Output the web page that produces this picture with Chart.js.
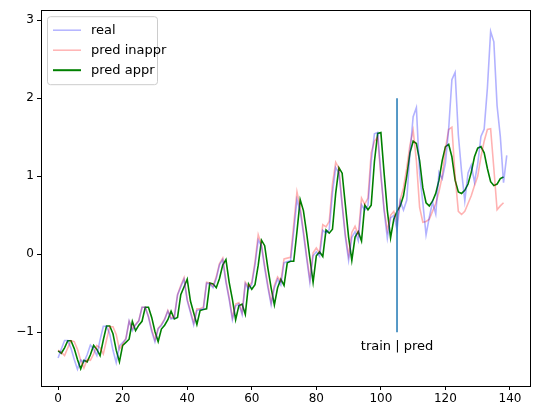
<!DOCTYPE html>
<html>
<head>
<meta charset="utf-8">
<script src="https://cdn.jsdelivr.net/npm/chart.js@4/dist/chart.umd.min.js"></script>
<style>
  html, body { margin: 0; padding: 0; background: #fff; }
  #wrap { width: 546px; height: 417px; }
</style>
</head>
<body>
<div id="wrap"><canvas id="c"></canvas></div>
<script>
// ─── DATA ─────────────────────────────────────────
const xTicks = [0, 20, 40, 60, 80, 100, 120, 140];
const yTicks = [-1, 0, 1, 2, 3];
const splitX = 105;

const real = [
  -1.332,-1.215,-1.107,-1.107,-1.207,-1.349,-1.475,-1.357,-1.382,-1.290,
  -1.165,-1.215,-1.299,-1.098,-0.923,-0.923,-1.023,-1.232,-1.391,-1.174,
  -1.132,-1.090,-0.856,-0.981,-0.906,-0.856,-0.680,-0.680,-0.806,-0.990,
  -1.124,-0.956,-0.914,-0.839,-0.730,-0.831,-0.814,-0.521,-0.421,-0.320,
  -0.596,-0.747,-0.906,-0.722,-0.705,-0.705,-0.371,-0.379,-0.429,-0.312,
  -0.136,-0.069,-0.362,-0.580,-0.839,-0.663,-0.638,-0.772,-0.379,-0.446,
  -0.387,-0.136,0.182,0.106,-0.178,-0.429,-0.647,-0.429,-0.320,-0.396,
  -0.111,-0.094,-0.086,0.290,0.700,0.558,0.265,-0.053,-0.362,-0.019,
  0.031,-0.028,0.307,0.274,0.316,0.784,1.110,1.044,0.625,0.215,
  -0.078,0.215,0.290,0.173,0.634,0.566,0.625,1.186,1.546,1.562,
  1.035,0.558,0.207,0.466,0.499,0.316,0.684,0.566,0.692,1.294,
  1.763,1.880,1.035,0.659,0.249,0.474,0.667,0.516,1.051,0.968,
  1.169,1.604,2.240,2.332,1.529,1.060,0.684,1.044,1.144,0.926,
  1.160,1.512,1.604,2.131,2.858,2.724,1.905,1.512,0.918,1.269
];

const predInappr = [
  -1.23,-1.26,-1.30,-1.20,-1.11,-1.12,-1.22,-1.36,-1.46,-1.35,
  -1.36,-1.28,-1.17,-1.20,-1.28,-1.10,-0.93,-0.93,-1.03,-1.22,
  -1.15,-1.08,-0.86,-0.96,-0.90,-0.85,-0.68,-0.68,-0.80,-0.97,
  -1.10,-0.95,-0.90,-0.83,-0.72,-0.82,-0.80,-0.52,-0.40,-0.30,
  -0.58,-0.73,-0.88,-0.70,-0.70,-0.68,-0.36,-0.37,-0.41,-0.29,
  -0.12,-0.05,-0.34,-0.56,-0.81,-0.64,-0.62,-0.75,-0.36,-0.42,
  -0.36,-0.10,0.25,0.12,-0.15,-0.40,-0.62,-0.40,-0.29,-0.35,
  -0.06,-0.05,-0.04,0.38,0.80,0.60,0.30,-0.02,-0.32,0.02,
  0.08,0.02,0.38,0.35,0.42,0.90,1.18,1.10,0.65,0.25,
  -0.02,0.28,0.36,0.25,0.72,0.64,0.72,1.30,1.45,1.50,
  1.00,0.58,0.30,0.50,0.55,0.40,0.70,0.85,1.10,1.40,
  1.59,1.20,0.60,0.41,0.42,0.45,0.55,0.65,0.80,1.00,
  1.35,1.60,1.63,1.00,0.55,0.51,0.55,0.65,0.75,0.88,
  1.00,1.25,1.45,1.60,1.61,1.10,0.57,0.62,0.66
];

const predAppr = [
  -1.24,-1.27,-1.20,-1.11,-1.11,-1.21,-1.35,-1.47,-1.36,-1.38,
  -1.29,-1.17,-1.22,-1.30,-1.10,-0.92,-0.92,-1.02,-1.23,-1.38,
  -1.17,-1.13,-1.09,-0.86,-0.98,-0.91,-0.86,-0.68,-0.68,-0.81,
  -0.99,-1.12,-0.96,-0.91,-0.84,-0.73,-0.83,-0.81,-0.52,-0.42,
  -0.32,-0.60,-0.75,-0.90,-0.72,-0.71,-0.70,-0.37,-0.38,-0.43,
  -0.31,-0.14,-0.07,-0.36,-0.58,-0.84,-0.66,-0.64,-0.77,-0.38,
  -0.45,-0.39,-0.14,0.18,0.11,-0.18,-0.43,-0.65,-0.43,-0.32,
  -0.40,-0.11,-0.09,-0.09,0.29,0.70,0.56,0.27,-0.05,-0.36,
  -0.02,0.03,-0.03,0.31,0.27,0.32,0.78,1.11,1.04,0.63,
  0.22,-0.08,0.22,0.29,0.17,0.63,0.57,0.63,1.19,1.55,
  1.56,1.04,0.56,0.21,0.45,0.55,0.62,0.75,1.00,1.30,
  1.45,1.42,1.20,0.85,0.66,0.62,0.68,0.78,0.95,1.20,
  1.38,1.41,1.25,0.95,0.80,0.78,0.82,0.90,1.05,1.25,
  1.36,1.38,1.30,1.10,0.93,0.88,0.90,0.97,0.99
];

const seriesNames = ['real', 'pred inappr', 'pred appr'];
const seriesColors = ['rgba(0,0,255,0.3)', 'rgba(255,0,0,0.3)', '#008000'];

// ─── PLUGINS ─────────────────────────────────────
const toXY = arr => arr.map((v, i) => ({ x: i, y: v }));

const splitLine = {
  id: 'splitLine',
  afterDatasetsDraw(chart) {
    const { ctx, scales: { x, y } } = chart;
    const px = x.getPixelForValue(splitX);
    ctx.save();
    ctx.strokeStyle = '#1f77b4';
    ctx.lineWidth = 1.5;
    ctx.beginPath();
    ctx.moveTo(px, y.getPixelForValue(2));
    ctx.lineTo(px, y.getPixelForValue(-1));
    ctx.stroke();
    ctx.fillStyle = '#000';
    ctx.font = '13px "DejaVu Sans"';
    ctx.textAlign = 'center';
    ctx.textBaseline = 'middle';
    ctx.fillText('train | pred', px, y.getPixelForValue(-1.19));
    ctx.restore();
  }
};

const frameAndLegend = {
  id: 'frameAndLegend',
  afterDraw(chart) {
    const { ctx, chartArea: a } = chart;
    ctx.save();
    ctx.strokeStyle = '#000';
    ctx.lineWidth = 1;
    ctx.strokeRect(Math.round(a.left) + 0.5, Math.round(a.top) + 0.5,
                   Math.round(a.right - a.left), Math.round(a.bottom - a.top));

    const bx = a.left + 6, by = a.top + 6, bw = 110, bh = 68;
    ctx.fillStyle = 'rgba(255,255,255,0.8)';
    ctx.strokeStyle = '#cccccc';
    ctx.beginPath();
    ctx.roundRect(bx + 0.5, by + 0.5, bw, bh, 3);
    ctx.fill();
    ctx.stroke();
    ctx.font = '13px "DejaVu Sans"';
    ctx.textBaseline = 'middle';
    seriesNames.forEach((name, i) => {
      const ly = by + 14 + i * 20;
      ctx.strokeStyle = seriesColors[i];
      ctx.lineWidth = i === 2 ? 2 : 1.5;
      ctx.beginPath();
      ctx.moveTo(bx + 6, ly);
      ctx.lineTo(bx + 34, ly);
      ctx.stroke();
      ctx.fillStyle = '#000';
      ctx.fillText(name, bx + 44, ly);
    });
    ctx.restore();
  }
};

const tickFmt = v => String(v).replace('-', '\u2212');

// ─── CHART ───────────────────────────────────────
new Chart(document.getElementById('c'), {
  type: 'line',
  data: {
    datasets: [
      { data: toXY(real),       borderColor: seriesColors[0], borderWidth: 1.6 },
      { data: toXY(predInappr), borderColor: seriesColors[1], borderWidth: 1.6 },
      { data: toXY(predAppr),   borderColor: seriesColors[2], borderWidth: 1.6 },
    ],
  },
  options: {
    responsive: true,
    maintainAspectRatio: false,
    animation: false,
    elements: { point: { radius: 0 }, line: { tension: 0 } },
    layout: { padding: { top: 10, right: 16, left: 0, bottom: 0 } },
    plugins: { legend: { display: false }, tooltip: { enabled: false } },
    scales: {
      x: {
        type: 'linear', min: -5.3, max: 146.2,
        afterBuildTicks: s => { s.ticks = xTicks.map(v => ({ value: v })); },
        afterFit: s => { s.height = 31; },
        grid: { drawOnChartArea: false, drawTicks: true, tickLength: 4, color: '#000' },
        border: { color: '#000' },
        ticks: { color: '#000', font: { family: 'DejaVu Sans', size: 12 }, padding: 2, callback: tickFmt },
      },
      y: {
        min: -1.69, max: 3.13,
        afterBuildTicks: s => { s.ticks = yTicks.map(v => ({ value: v })); },
        afterFit: s => { s.width = 41; },
        grid: { drawOnChartArea: false, drawTicks: true, tickLength: 4, color: '#000' },
        border: { color: '#000' },
        ticks: { color: '#000', font: { family: 'DejaVu Sans', size: 12 }, padding: 3, callback: tickFmt },
      },
    },
  },
  plugins: [splitLine, frameAndLegend],
});
</script>
</body>
</html>
